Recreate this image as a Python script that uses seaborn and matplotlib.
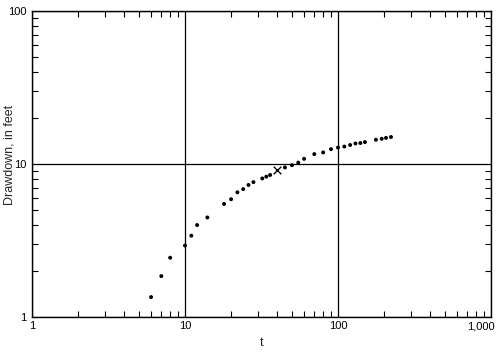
import matplotlib
matplotlib.use("Agg")
import matplotlib.pyplot as plt
import matplotlib.transforms as mtransforms
import seaborn as sns
import pandas as pd
from matplotlib.ticker import LogLocator, FixedLocator, FixedFormatter, NullFormatter

# data
t_values = [6, 7, 8, 10, 11, 12, 14, 18, 20, 22, 24, 26, 28, 32, 34, 36,
            45, 50, 55, 60, 70, 80, 90, 100, 110, 120, 130, 140, 150,
            177, 193, 206, 222]
drawdown = [1.35, 1.85, 2.44, 2.93, 3.40, 3.99, 4.47, 5.48, 5.88, 6.53, 6.85,
            7.29, 7.61, 8.04, 8.26, 8.47, 9.49, 9.82, 10.2, 10.8, 11.6, 11.9,
            12.5, 12.8, 13.0, 13.3, 13.6, 13.7, 13.9, 14.4, 14.6, 14.8, 15.0]
match_t = [40]
match_s = [9.07]
x_ticks = [1, 10, 100, 1000]
x_tick_labels = ["1", "10", "100", "1,000"]
y_ticks = [1, 10, 100]
y_tick_labels = ["1", "10", "100"]

sns.set_style("ticks")
plt.rcParams['font.family'] = ['Liberation Sans', 'DejaVu Sans']

df = pd.DataFrame({"t": t_values, "s": drawdown})
dfx = pd.DataFrame({"t": match_t, "s": match_s})

fig = plt.figure(figsize=(5.0, 3.52), dpi=100)
ax = fig.add_axes([0.064, 0.0994, 0.918, 0.8696])

sns.scatterplot(data=df, x="t", y="s", ax=ax, color="black", s=8,
                edgecolor="none", legend=False)
sns.scatterplot(data=dfx, x="t", y="s", ax=ax, color="black", marker="x",
                s=30, linewidth=1.0, legend=False)

ax.set_xscale("log")
ax.set_yscale("log")
ax.set_xlim(1, 1000)
ax.set_ylim(1, 100)

ax.xaxis.set_major_locator(FixedLocator(x_ticks))
ax.xaxis.set_major_formatter(FixedFormatter(x_tick_labels))
ax.yaxis.set_major_locator(FixedLocator(y_ticks))
ax.yaxis.set_major_formatter(FixedFormatter(y_tick_labels))
ax.xaxis.set_minor_locator(LogLocator(base=10, subs=range(2, 10)))
ax.yaxis.set_minor_locator(LogLocator(base=10, subs=range(2, 10)))
ax.xaxis.set_minor_formatter(NullFormatter())
ax.yaxis.set_minor_formatter(NullFormatter())

ax.tick_params(which="both", direction="in", top=True, right=True,
               colors="black", labelsize=8)
ax.tick_params(which="major", length=0, pad=4)
ax.tick_params(axis="x", which="major", pad=3)
ax.tick_params(which="minor", length=4, width=0.8)

ax.grid(True, which="major", color="black", linewidth=0.9)
for sp in ax.spines.values():
    sp.set_color("black")
    sp.set_linewidth(1.0)

ax.set_xlabel("t", fontsize=9, labelpad=4)
ax.set_ylabel("Drawdown, in feet", fontsize=9)
ax.yaxis.set_label_coords(-0.037, 0.53)

fig.canvas.draw()
last = ax.get_xticklabels()[-1]
last.set_horizontalalignment("right")
last.set_transform(last.get_transform() +
                   mtransforms.ScaledTranslation(4 / 100, 0, fig.dpi_scale_trans))

fig.savefig("out.png", dpi=100)
